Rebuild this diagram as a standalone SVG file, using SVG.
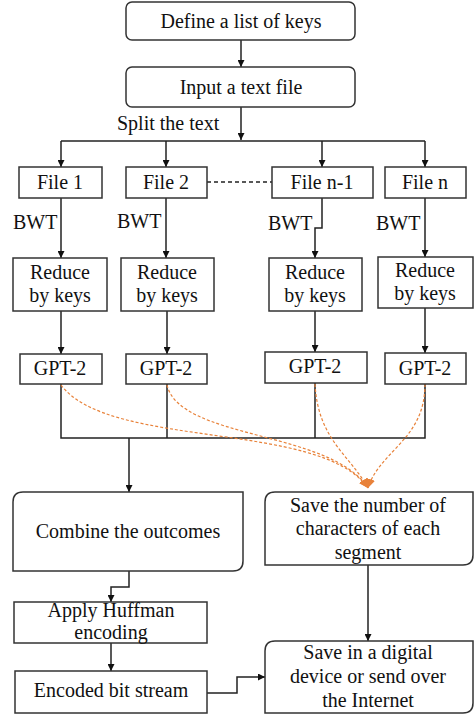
<svg xmlns="http://www.w3.org/2000/svg" width="474" height="726" viewBox="0 0 474 726">
<defs>
<style>
.box{fill:#fff;stroke:#333;stroke-width:1.5}
.t{font-family:"Liberation Serif","Times New Roman",serif;font-size:20px;fill:#111;text-anchor:middle}
.tl{font-family:"Liberation Serif","Times New Roman",serif;font-size:20px;fill:#111}
.ln{fill:none;stroke:#222;stroke-width:1.5}
.or{fill:none;stroke:#E8823A;stroke-width:1.2;stroke-dasharray:3 2}
</style>
<marker id="ah" viewBox="0 0 10 10" refX="10" refY="5" markerWidth="7" markerHeight="7" markerUnits="userSpaceOnUse" orient="auto">
<path d="M0,0 L10,5 L0,10 z" fill="#111"/>
</marker>
<marker id="oh" viewBox="0 0 10 10" refX="10" refY="5" markerWidth="9" markerHeight="9" markerUnits="userSpaceOnUse" orient="auto">
<path d="M0,0 L10,5 L0,10 z" fill="#E8823A"/>
</marker>
</defs>
<rect width="474" height="726" fill="#fff"/>
<g id="connectors">
<line class="ln" x1="241" y1="40" x2="241" y2="67" marker-end="url(#ah)"/>
<line class="ln" x1="241" y1="107" x2="241" y2="140" marker-end="url(#ah)"/>
<line class="ln" x1="61" y1="141" x2="425" y2="141"/>
<line class="ln" x1="61" y1="141" x2="61" y2="167" marker-end="url(#ah)"/>
<line class="ln" x1="166" y1="141" x2="166" y2="167" marker-end="url(#ah)"/>
<line class="ln" x1="322" y1="141" x2="322" y2="167" marker-end="url(#ah)"/>
<line class="ln" x1="425" y1="141" x2="425" y2="167" marker-end="url(#ah)"/>
<line class="ln" x1="207" y1="182" x2="272" y2="182" stroke-dasharray="4 3" stroke-width="1"/>
<line class="ln" x1="61" y1="198" x2="61" y2="258" marker-end="url(#ah)"/>
<line class="ln" x1="166" y1="198" x2="166" y2="258" marker-end="url(#ah)"/>
<polyline class="ln" points="322,198 322,228 315,228 315,258" marker-end="url(#ah)"/>
<line class="ln" x1="425" y1="198" x2="425" y2="257" marker-end="url(#ah)"/>
<line class="ln" x1="61" y1="311" x2="61" y2="354" marker-end="url(#ah)"/>
<line class="ln" x1="167" y1="311" x2="167" y2="354" marker-end="url(#ah)"/>
<line class="ln" x1="315" y1="311" x2="315" y2="352" marker-end="url(#ah)"/>
<line class="ln" x1="425" y1="308" x2="425" y2="353" marker-end="url(#ah)"/>
<polyline class="ln" points="61,384 61,438 425,438 425,384"/>
<line class="ln" x1="167" y1="384" x2="167" y2="438"/>
<line class="ln" x1="315" y1="383" x2="315" y2="438"/>
<line class="ln" x1="129" y1="438" x2="129" y2="492" marker-end="url(#ah)"/>
<path class="or" d="M61,385 C110,450 320,420 368,488" marker-end="url(#oh)"/>
<path class="or" d="M167,385 C180,440 330,430 368,488" marker-end="url(#oh)"/>
<path class="or" d="M315,384 C318,440 350,455 368,488" marker-end="url(#oh)"/>
<path class="or" d="M425,384 C425,440 380,450 368,488" marker-end="url(#oh)"/>
<polyline class="ln" points="129,571 129,587 111,587 111,602" marker-end="url(#ah)"/>
<line class="ln" x1="111" y1="643" x2="111" y2="671" marker-end="url(#ah)"/>
<polyline class="ln" points="207,693 237,693 237,677 265,677" marker-end="url(#ah)"/>
<line class="ln" x1="368" y1="565" x2="368" y2="641" marker-end="url(#ah)"/>
</g>
<g id="define"><rect class="box" x="126" y="2" width="229" height="38" rx="6"/><text class="t" x="241" y="28">Define a list of keys</text></g>
<g id="input"><rect class="box" x="126" y="67" width="229" height="40" rx="6"/><text class="t" x="241" y="94">Input a text file</text></g>
<text class="tl" x="117" y="130">Split the text</text>
<g id="file1"><rect class="box" x="19" y="167" width="83" height="31"/><text class="t" x="60" y="189">File 1</text></g>
<g id="file2"><rect class="box" x="126" y="167" width="81" height="31"/><text class="t" x="166" y="189">File 2</text></g>
<g id="filen1"><rect class="box" x="272" y="167" width="101" height="31"/><text class="t" x="322" y="189">File n-1</text></g>
<g id="filen"><rect class="box" x="385" y="167" width="81" height="31"/><text class="t" x="425" y="189">File n</text></g>
<text class="tl" x="13" y="229">BWT</text>
<text class="tl" x="117" y="228">BWT</text>
<text class="tl" x="268" y="230">BWT</text>
<text class="tl" x="376" y="230">BWT</text>
<g id="reduce1"><rect class="box" x="13" y="258" width="94" height="53"/><text class="t" x="60" y="279">Reduce</text><text class="t" x="60" y="302">by keys</text></g>
<g id="reduce2"><rect class="box" x="121" y="258" width="93" height="53"/><text class="t" x="167" y="279">Reduce</text><text class="t" x="167" y="302">by keys</text></g>
<g id="reduce3"><rect class="box" x="269" y="258" width="93" height="53"/><text class="t" x="315" y="279">Reduce</text><text class="t" x="315" y="302">by keys</text></g>
<g id="reduce4"><rect class="box" x="378" y="257" width="95" height="51"/><text class="t" x="425" y="277">Reduce</text><text class="t" x="425" y="300">by keys</text></g>
<g id="gpt1"><rect class="box" x="20" y="354" width="82" height="30"/><text class="t" x="60" y="375">GPT-2</text></g>
<g id="gpt2"><rect class="box" x="126" y="354" width="81" height="30"/><text class="t" x="166" y="375">GPT-2</text></g>
<g id="gpt3"><rect class="box" x="265" y="352" width="102" height="31"/><text class="t" x="315" y="373">GPT-2</text></g>
<g id="gpt4"><rect class="box" x="385" y="353" width="81" height="31"/><text class="t" x="425" y="375">GPT-2</text></g>
<g id="combine"><path class="box" d="M13,571 L13,502 Q13,492 23,492 L243,492 L243,561 Q243,571 233,571 Z"/><text class="t" x="128" y="538">Combine the outcomes</text></g>
<g id="savenum"><path class="box" d="M265,565 L265,502 Q265,492 275,492 L473,492 L473,555 Q473,565 463,565 Z"/><text class="t" x="368" y="512">Save the number of</text><text class="t" x="368" y="535">characters of each</text><text class="t" x="368" y="559">segment</text></g>
<g id="huffman"><rect class="box" x="14" y="602" width="193" height="41"/><text class="t" x="111" y="617">Apply Huffman</text><text class="t" x="111" y="639">encoding</text></g>
<g id="encoded"><rect class="box" x="15" y="671" width="192" height="42"/><text class="t" x="111" y="697">Encoded bit stream</text></g>
<g id="savedev"><path class="box" d="M265,713 L265,651 Q265,641 275,641 L473,641 L473,703 Q473,713 463,713 Z"/><text class="t" x="368" y="659">Save in a digital</text><text class="t" x="368" y="683">device or send over</text><text class="t" x="368" y="707">the Internet</text></g>
</svg>
